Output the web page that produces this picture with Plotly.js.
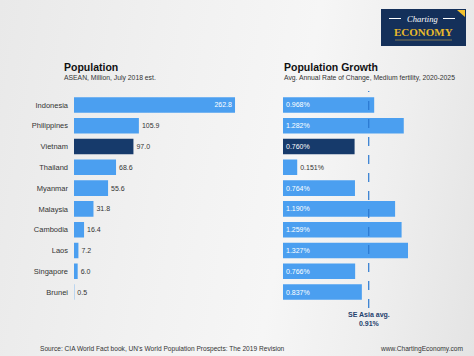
<!DOCTYPE html>
<html>
<head>
<meta charset="utf-8">
<script src="https://cdn.plot.ly/plotly-3.0.1.min.js"></script>
<style>
html,body{margin:0;padding:0;width:474px;height:356px;overflow:hidden;}
body{background:linear-gradient(100deg,#e9e9e9 0%,#f1f1f1 35%,#f6f6f6 60%,#eeeeee 80%,#e4e4e4 100%);}
#chart{width:474px;height:356px;}
</style>
</head>
<body>
<div id="chart"></div>
<script>
const countries = ['Indonesia','Philippines','Vietnam','Thailand','Myanmar','Malaysia','Cambodia','Laos','Singapore','Brunei'];
const population = [262.8,105.9,97.0,68.6,55.6,31.8,16.4,7.2,6.0,0.5];
const growth = [0.968,1.282,0.760,0.151,0.764,1.190,1.259,1.327,0.766,0.837];
const seAsiaAvg = 0.91;
const highlight = 'Vietnam';

const W = 474, H = 356;
const px = (x) => x / W;
const py = (y) => 1 - y / H;

const light = '#4b9ff0', dark = '#163a6b';
const colors = countries.map(c => c === highlight ? dark : light);
const popPos = population.map((v, i) => i === 0 ? 'inside' : 'outside');
const growthPos = growth.map(v => v < 0.3 ? 'outside' : 'inside');
const FONT = 'Liberation Sans, Arial, sans-serif';

const traces = [
  {
    type: 'bar', orientation: 'h', x: population, y: countries,
    xaxis: 'x', yaxis: 'y',
    marker: {color: colors},
    texttemplate: '%{x:.1f}', textposition: popPos, insidetextanchor: 'end',
    insidetextfont: {color: '#ffffff', size: 7, family: FONT},
    outsidetextfont: {color: '#333333', size: 7, family: FONT},
    cliponaxis: false, hoverinfo: 'skip'
  },
  {
    type: 'bar', orientation: 'h', x: growth, y: countries,
    xaxis: 'x2', yaxis: 'y',
    marker: {color: colors},
    texttemplate: '%{x:.3f}%', textposition: growthPos, insidetextanchor: 'start',
    insidetextfont: {color: '#ffffff', size: 7, family: FONT},
    outsidetextfont: {color: '#333333', size: 7, family: FONT},
    cliponaxis: false, hoverinfo: 'skip'
  }
];

const layout = {
  width: W, height: H,
  margin: {l: 0, r: 0, t: 0, b: 0},
  paper_bgcolor: 'rgba(0,0,0,0)', plot_bgcolor: 'rgba(0,0,0,0)',
  showlegend: false,
  bargap: 0.25,
  font: {family: FONT, color: '#333'},
  xaxis: {domain: [px(74), px(250)], range: [0, 176 / 0.6127], visible: false, fixedrange: true},
  xaxis2: {domain: [px(283), px(420)], range: [0, 137 / 94.2], visible: false, anchor: 'y', fixedrange: true},
  yaxis: {
    domain: [py(302.4), py(94.6)], range: [9.5, -0.5], type: 'category',
    showgrid: false, zeroline: false, showline: false, ticks: '',
    ticklabelstandoff: 5,
    tickfont: {size: 7.5, color: '#333', family: FONT}
  },
  shapes: [
    {type: 'line', xref: 'x2', yref: 'paper', x0: seAsiaAvg, x1: seAsiaAvg, y0: py(308), y1: py(91),
     line: {color: '#2a78d0', width: 1.2, dash: 'dash'}},
    // logo
    {type: 'rect', xref: 'paper', yref: 'paper', x0: px(381), x1: px(466), y0: py(46), y1: py(9),
     fillcolor: '#14305a', line: {width: 0}},
    {type: 'path', xref: 'paper', yref: 'paper',
     path: `M ${px(457)} ${py(10)} L ${px(465)} ${py(10)} L ${px(465)} ${py(17)} Z`,
     fillcolor: '#f2c12e', line: {width: 0}},
    {type: 'line', xref: 'paper', yref: 'paper', x0: px(389), x1: px(401), y0: py(18.5), y1: py(18.5), line: {color: '#ffffff', width: 1}},
    {type: 'line', xref: 'paper', yref: 'paper', x0: px(443), x1: px(455), y0: py(18.5), y1: py(18.5), line: {color: '#ffffff', width: 1}},
    {type: 'line', xref: 'paper', yref: 'paper', x0: px(395), x1: px(452), y0: py(40), y1: py(40), line: {color: '#c9a94a', width: 0.6}}
  ],
  annotations: [
    {xref: 'paper', yref: 'paper', x: px(62), y: py(67), xanchor: 'left', yanchor: 'middle', showarrow: false,
     text: '<b>Population</b>', font: {size: 10.5, color: '#111', family: FONT}},
    {xref: 'paper', yref: 'paper', x: px(62), y: py(78), xanchor: 'left', yanchor: 'middle', showarrow: false,
     text: 'ASEAN, Million, July 2018 est.', font: {size: 6.8, color: '#333', family: FONT}},
    {xref: 'paper', yref: 'paper', x: px(282), y: py(67), xanchor: 'left', yanchor: 'middle', showarrow: false,
     text: '<b>Population Growth</b>', font: {size: 10.5, color: '#111', family: FONT}},
    {xref: 'paper', yref: 'paper', x: px(282), y: py(78), xanchor: 'left', yanchor: 'middle', showarrow: false,
     text: 'Avg. Annual Rate of Change, Medium fertility, 2020-2025', font: {size: 6.8, color: '#333', family: FONT}},
    {xref: 'x2', yref: 'paper', x: seAsiaAvg, y: py(319), xanchor: 'center', yanchor: 'middle', showarrow: false,
     text: `<b>SE Asia avg.<br>${seAsiaAvg.toFixed(2)}%</b>`, font: {size: 7, color: '#1f3f6e', family: FONT}},
    {xref: 'paper', yref: 'paper', x: px(38), y: py(349), xanchor: 'left', yanchor: 'middle', showarrow: false,
     text: "Source: CIA World Fact book, UN's World Population Prospects: The 2019 Revision", font: {size: 6.6, color: '#333', family: FONT}},
    {xref: 'paper', yref: 'paper', x: px(465), y: py(349), xanchor: 'right', yanchor: 'middle', showarrow: false,
     text: 'www.ChartingEconomy.com', font: {size: 6.6, color: '#333', family: FONT}},
    {xref: 'paper', yref: 'paper', x: px(422), y: py(18.5), xanchor: 'center', yanchor: 'middle', showarrow: false,
     text: '<i>Charting</i>', font: {size: 8.5, color: '#ffffff', family: 'Liberation Serif, serif'}},
    {xref: 'paper', yref: 'paper', x: px(423), y: py(32), xanchor: 'center', yanchor: 'middle', showarrow: false,
     text: '<b>ECONOMY</b>', font: {size: 11, color: '#e8b92a', family: 'Liberation Serif, serif'}}
  ]
};

Plotly.newPlot('chart', traces, layout, {staticPlot: true, displayModeBar: false});
</script>
</body>
</html>
